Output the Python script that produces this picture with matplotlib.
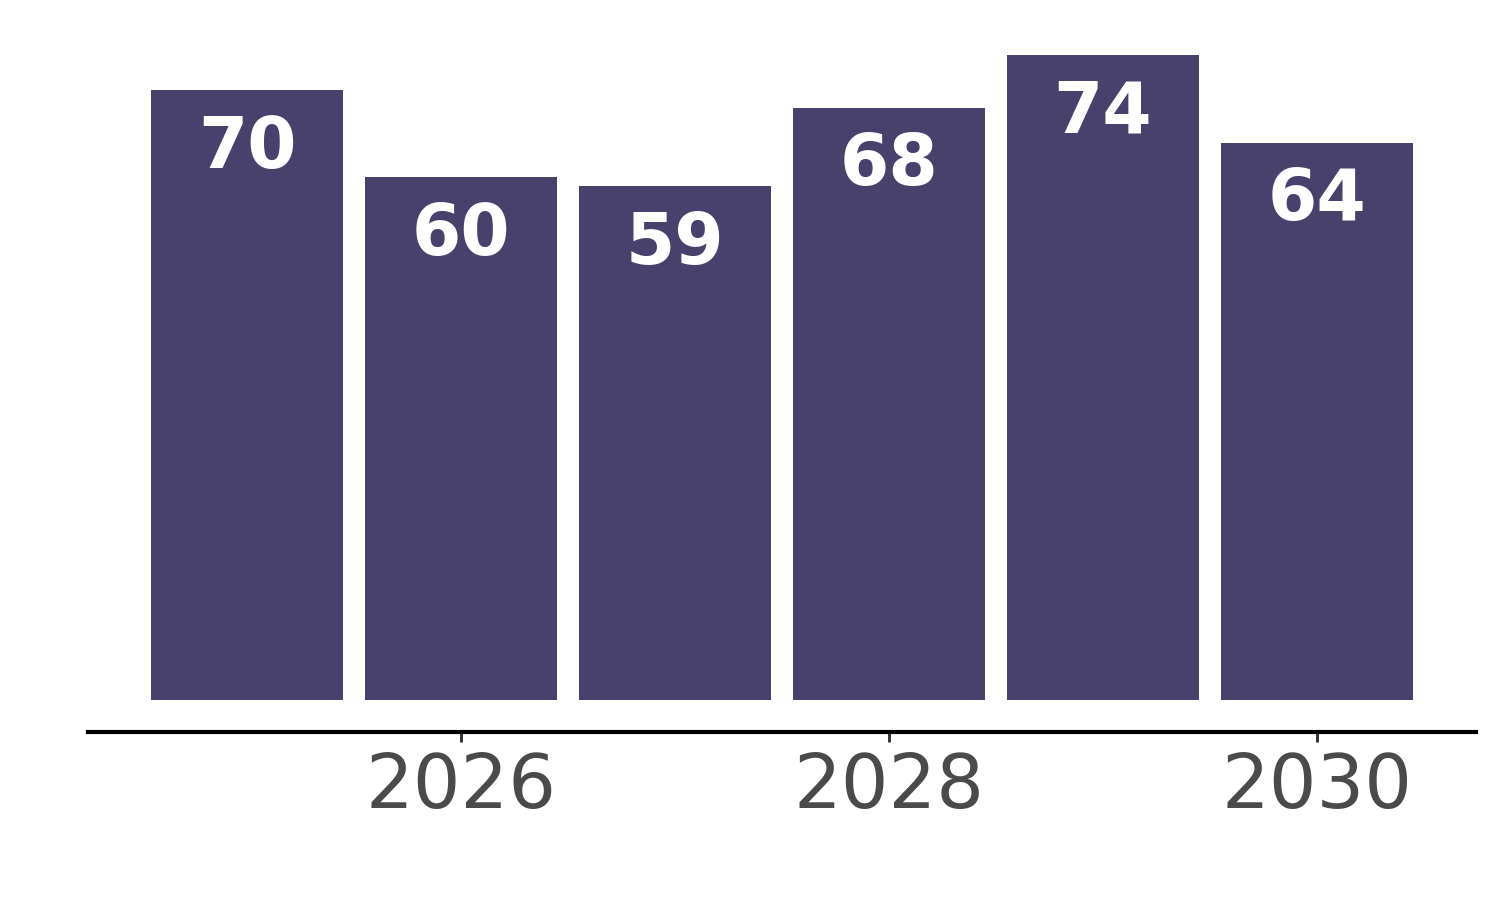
import matplotlib
matplotlib.use("Agg")
import matplotlib.pyplot as plt

years = [2025, 2026, 2027, 2028, 2029, 2030]
values = [70, 60, 59, 68, 74, 64]
tick_years = [2026, 2028, 2030]


def main():
    fig = plt.figure(figsize=(5, 3), dpi=300)
    ax = fig.add_axes([0.0587, 0.2222, 0.9253, 0.752])

    bars = ax.bar(years, values, width=0.9, color="#48416c")
    for b, v in zip(bars, values):
        ax.annotate(str(v), (b.get_x() + b.get_width() / 2, v),
                    xytext=(0, -13.9), textcoords="offset points",
                    ha="center", va="center", color="white",
                    fontsize=17, fontweight="bold")

    ax.set_xlim(2024.257, 2030.743)
    ax.set_ylim(0, 77.7)
    ax.set_xticks(tick_years)
    ax.set_xticklabels([str(t) for t in tick_years])
    ax.set_yticks([])

    for s in ["top", "right", "left"]:
        ax.spines[s].set_visible(False)
    ax.spines["bottom"].set_position(("outward", 7.7))
    ax.spines["bottom"].set_linewidth(1.0)
    ax.tick_params(axis="x", length=2.5, width=0.7, color="#333333",
                   labelsize=18, labelcolor="#4a4a4a", pad=2)

    fig.savefig("out.png", dpi=300)


if __name__ == "__main__":
    main()
